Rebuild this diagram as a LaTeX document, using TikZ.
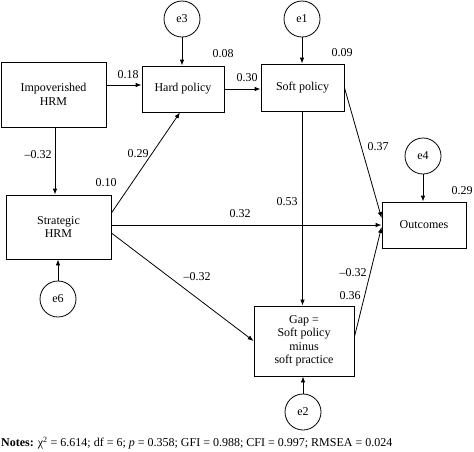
\documentclass[tikz,border=0pt]{standalone}
\usepackage{fontspec}
\setmainfont{Liberation Serif}
\usepackage{tikz}
\usetikzlibrary{arrows.meta}

\begin{document}
\begin{tikzpicture}[x=1pt,y=-1pt,font=\fontsize{12}{13.5}\selectfont,
	varbox/.style={draw,thick,align=center,inner sep=0pt},
	errc/.style={draw,thick,circle,minimum size=36pt,inner sep=0pt},
	path/.style={thick,-{Latex[length=6pt,width=4.5pt]}},
	coef/.style={inner sep=0pt}]
	\useasboundingbox (0,0) rectangle (474,451);

	% observed variables
	\node[varbox,minimum width=105pt,minimum height=65pt] at (53.5,94.5) (imp) {Impoverished\\HRM};
	\node[varbox,minimum width=82pt ,minimum height=46pt] at (183,89)   (hard) {Hard policy};
	\node[varbox,minimum width=83pt ,minimum height=47pt] at (302.5,87.5) (soft) {Soft policy};
	\node[varbox,minimum width=105pt,minimum height=64pt] at (58.5,227) (strat) {Strategic\\HRM};
	\node[varbox,minimum width=84pt ,minimum height=46pt] at (424,225)  (out) {Outcomes};
	\node[varbox,minimum width=100pt,minimum height=70pt] at (304,341)  (gap) {Gap =\\Soft policy\\minus\\soft practice};

	% error terms
	\node[errc] at (182,19)  (e3) {e3};
	\node[errc] at (302,19)  (e1) {e1};
	\node[errc] at (423,156) (e4) {e4};
	\node[errc] at (58,299)  (e6) {e6};
	\node[errc] at (303,412) (e2) {e2};

	\draw[path] (e3) -- (e3 |- hard.north);
	\draw[path] (e1) -- (e1 |- soft.north);
	\draw[path] (e4) -- (e4 |- out.north);
	\draw[path] (e6) -- (e6 |- strat.south);
	\draw[path] (e2) -- (e2 |- gap.south);

	% paths
	\coordinate (hardin) at ([yshift=4pt]hard.west);
	\draw[path] (imp.east |- hardin) -- (hardin);
	\draw[path] (hard.east) -- (soft.west |- hard.east);
	\coordinate (impout) at ([xshift=1.5pt]imp.south);
	\draw[path] (impout) -- (impout |- strat.north);
	\draw[path] ([yshift=14pt]strat.east) -- ([xshift=-3pt]hard.south);
	\draw[path] (strat.east |- out.west) -- (out.west);
	\draw[path] ([yshift=-6pt]strat.east) -- (gap.west);
	\draw[path] (soft.east) -- ([yshift=7pt]out.west);
	\draw[path] (soft.south) -- (soft.south |- gap.north);
	\draw[path] ([yshift=4pt]gap.east) -- ([yshift=-2pt]out.west);

	% coefficients
	\node[coef] at (223,54)  (r2hard) {0.08};
	\node[coef] at (342,53)  (r2soft) {0.09};
	\node[coef] at (106,183) (r2strat) {0.10};
	\node[coef] at (462,191) (r2out) {0.29};
	\node[coef] at (128,75)  (c1) {0.18};
	\node[coef] at (247,78)  (c2) {0.30};
	\node[coef] at (38,155)  (c3) {--0.32};
	\node[coef] at (138,154) (c4) {0.29};
	\node[coef] at (378,147) (c5) {0.37};
	\node[coef] at (240,214) (c6) {0.32};
	\node[coef] at (287,202) (c7) {0.53};
	\node[coef] at (197,277) (c8) {--0.32};
	\node[coef] at (353,273) (c9) {--0.32};
	\node[coef] at (350,296) (c10) {0.36};

	%\node at (237,5) {title};
	\node[coef,anchor=west] at (1,443) (notes) {\textbf{Notes:} χ\textsuperscript{2} = 6.614; df = 6; \textit{p} = 0.358; GFI = 0.988; CFI = 0.997; RMSEA = 0.024};
\end{tikzpicture}
\end{document}
